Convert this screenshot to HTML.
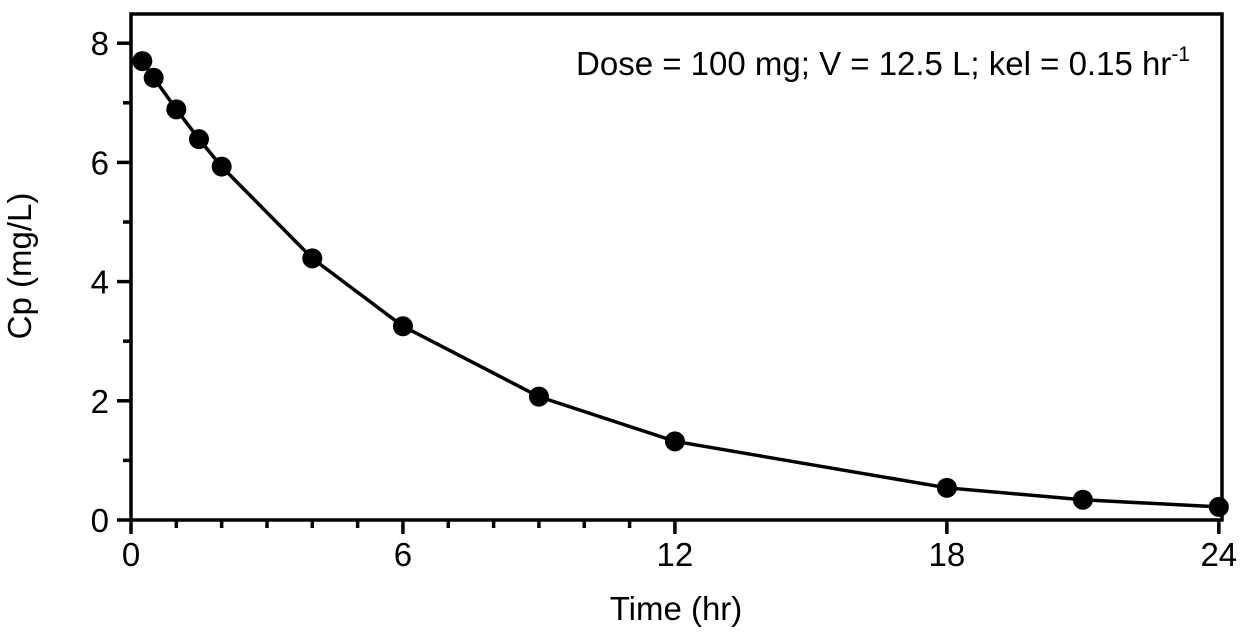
<!DOCTYPE html>
<html><head><meta charset="utf-8"><style>
body{margin:0;background:#fff}
svg text{font-family:"Liberation Sans",Arial,sans-serif;fill:#000}
</style></head><body>
<svg id="c" width="1244" height="638">
</svg>
<script>
const times=[0.25,0.5,1,1.5,2,4,6,9,12,18,21,24];
const conc=[7.7,7.42,6.89,6.39,5.93,4.39,3.25,2.07,1.32,0.54,0.34,0.22];
const xTicks=[0,6,12,18,24];
const xMinor=[1,2,3,4,5,7,8,9,10,11];
const yTicks=[0,2,4,6,8];
const yMinor=[1,3,5,7];
const L=131,R=1222,T=14,B=520;
const X=t=>L+t/24.07*(R-L);
const Y=v=>B-v*59.6;
const svg=document.getElementById('c');
const NS='http://www.w3.org/2000/svg';
function mk(tag,attrs,parent){const e=document.createElementNS(NS,tag);for(const k in attrs)e.setAttribute(k,attrs[k]);(parent||svg).appendChild(e);return e;}
const frame=mk('rect',{x:L,y:T,width:R-L,height:B-T,fill:'none',stroke:'#000','stroke-width':3.5});


xTicks.forEach(t=>{
  const l=mk('line',{x1:X(t),x2:X(t),y1:B,y2:B+14,stroke:'#000','stroke-width':3.5});
  
  
  const tx=mk('text',{x:X(t),y:B+46,'text-anchor':'middle','font-size':33});
  tx.textContent=t;
  
  
});
xMinor.forEach(t=>{
  const l=mk('line',{x1:X(t),x2:X(t),y1:B,y2:B+8,stroke:'#000','stroke-width':3.5});
  
  
});
yTicks.forEach(v=>{
  const l=mk('line',{x1:L-14,x2:L,y1:Y(v),y2:Y(v),stroke:'#000','stroke-width':3.5});
  
  
  const tx=mk('text',{x:L-22,y:Y(v)+12,'text-anchor':'end','font-size':33});
  tx.textContent=v;
  
  
});
yMinor.forEach(v=>{
  const l=mk('line',{x1:L-8,x2:L,y1:Y(v),y2:Y(v),stroke:'#000','stroke-width':3.5});
  
  
});
const path=mk('polyline',{points:times.map((t,i)=>X(t)+','+Y(conc[i])).join(' '),fill:'none',stroke:'#000','stroke-width':3.5});


times.forEach((t,i)=>{
  const c=mk('circle',{cx:X(t),cy:Y(conc[i]),r:10,fill:'#000'});
  
  
});
const xt=mk('text',{x:676,y:620,'text-anchor':'middle','font-size':33});
xt.textContent='Time (hr)';


const yt=mk('text',{x:0,y:0,'text-anchor':'middle','font-size':33,transform:'translate(31,266) rotate(-90)'});
yt.textContent='Cp (mg/L)';


const ann=mk('text',{x:1190,y:75,'text-anchor':'end','font-size':33});
ann.innerHTML='Dose = 100 mg; V = 12.5 L; kel = 0.15 hr<tspan dy="-14" font-size="21">-1</tspan>';


</script>
</body></html>
